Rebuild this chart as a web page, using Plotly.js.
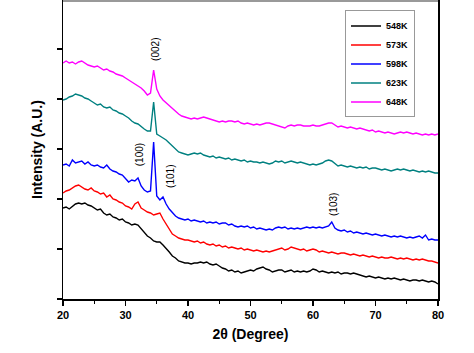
<!DOCTYPE html>
<html>
<head>
<meta charset="utf-8">
<script src="https://cdn.plot.ly/plotly-3.0.1.min.js"></script>
<style>html,body{margin:0;padding:0;background:#fff;}#chart{width:474px;height:353px;}</style>
</head>
<body>
<div id="chart"></div>
<script>
var twoTheta = [20,20.5,21,21.5,22,22.5,23,23.5,24,24.5,25,25.5,26,26.5,27,27.5,28,28.5,29,29.5,
30,30.5,31,31.5,32,32.5,33,33.5,34,34.5,35,35.5,36,36.5,37,37.5,38,38.5,39,39.5,
40,40.5,41,41.5,42,42.5,43,43.5,44,44.5,45,45.5,46,46.5,47,47.5,48,48.5,49,49.5,
50,50.5,51,51.5,52,52.5,53,53.5,54,54.5,55,55.5,56,56.5,57,57.5,58,58.5,59,59.5,
60,60.5,61,61.5,62,62.5,63,63.5,64,64.5,65,65.5,66,66.5,67,67.5,68,68.5,69,69.5,
70,70.5,71,71.5,72,72.5,73,73.5,74,74.5,75,75.5,76,76.5,77,77.5,78,78.5,79,79.5,80];

var series548K = [91,92,90,93,95,96,95,96,94,93,91,89,90,86,84,85,82,81,79,80,
77,76,74,75,74,70,67,63,61,58,57,57,54,51,47,43,41,38,37,36,
36,35,36,36,37,36,37,35,34,35,33,31,30,28,29,27,28,26,27,28,
29,28,30,31,32,30,29,27,28,29,29,27,28,29,27,28,27,28,27,28,
30,29,27,28,27,26,27,26,27,25,26,26,25,26,25,24,23,22,23,22,
21,22,21,20,21,20,21,20,19,20,19,18,19,19,18,19,18,17,18,17,15];

var series573K = [106,108,109,111,113,114,112,110,109,111,108,107,105,106,102,104,100,99,97,96,
93,92,90,95,97,91,89,87,86,84,85,86,80,75,69,65,63,61,60,59,
59,58,57,58,56,57,55,54,55,53,54,52,53,51,52,51,50,51,49,50,
49,48,49,48,47,48,47,48,49,50,51,49,50,52,51,50,49,50,48,49,
50,49,47,48,47,46,47,46,45,46,46,45,44,45,44,43,44,43,42,43,
42,41,42,41,41,42,41,40,41,40,41,40,39,40,39,40,39,38,38,37,36];

var series598K = [134,135,133,139,136,137,138,135,137,134,133,134,132,131,134,130,128,127,125,124,
121,117,119,118,121,113,109,107,108,157,103,99,102,95,90,86,83,81,80,79,
80,78,79,78,77,78,76,77,76,77,75,76,76,74,75,73,72,73,72,73,
71,72,70,71,70,69,70,69,71,72,71,72,70,71,70,71,70,71,72,71,
72,71,72,71,72,73,77,71,69,68,69,67,68,66,67,66,65,66,65,64,
65,64,63,64,63,62,63,62,63,62,61,62,61,62,63,61,64,59,60,59,59];

var series623K = [199,200,202,203,205,204,203,201,200,198,196,194,195,192,191,192,189,188,186,185,
183,181,178,176,175,172,170,168,168,197,165,163,161,159,156,153,150,147,146,145,
144,145,146,145,146,144,143,142,143,141,142,141,140,141,139,140,139,138,139,137,
138,137,137,136,137,136,135,136,138,137,138,136,137,138,137,136,137,136,135,134,
135,134,135,136,138,139,138,135,133,134,133,132,133,132,131,132,131,132,130,131,
131,130,129,130,129,128,129,130,129,130,129,128,129,128,127,128,127,128,127,126,126];

var series648K = [236,238,236,237,235,237,238,236,234,233,232,233,231,229,230,228,227,225,224,223,
221,219,217,215,213,211,208,204,206,229,210,203,199,196,193,190,187,185,183,182,
181,180,181,180,181,182,181,180,179,178,177,178,177,178,178,177,178,176,175,176,
175,174,175,174,175,176,176,175,174,173,172,171,173,174,173,174,174,173,173,173,
174,173,173,174,175,176,176,174,172,173,172,171,172,171,170,171,170,169,168,169,
167,168,167,166,167,166,165,166,167,166,167,166,165,166,165,164,165,164,165,164,165];

var seriesNames = ['548K','573K','598K','623K','648K'];
var seriesColors = ['#000000','#ff0000','#0000ff','#008080','#ff00ff'];
var seriesData = [series548K, series573K, series598K, series623K, series648K];

var peakLabels = ['(002)','(100)','(101)','(103)'];
var peakX = [34.7, 32.2, 37.1, 63.2];
var peakY = [250, 144, 123, 94];

var traces = seriesData.map(function(d, i){
  return {x: twoTheta, y: d, type: 'scatter', mode: 'lines', name: seriesNames[i],
          line: {color: seriesColors[i], width: 1.4}};
});

var annotations = peakLabels.map(function(t, i){
  return {x: peakX[i], y: peakY[i], xref: 'x', yref: 'y', text: t, showarrow: false,
          textangle: -90, font: {family: 'Liberation Sans, Arial, sans-serif', size: 10, color: '#000'}};
});

var layout = {
  width: 474, height: 353,
  margin: {l: 63, r: 36, t: 0, b: 54},
  paper_bgcolor: '#fff', plot_bgcolor: '#fff',
  showlegend: true,
  legend: {x: 0.752, y: 0.965, xanchor: 'left', yanchor: 'top', bgcolor: '#fff',
           bordercolor: '#999', borderwidth: 1,
           font: {family: 'Liberation Sans, Arial, sans-serif', size: 9, color: '#000', weight: 'bold'}},
  xaxis: {range: [20, 80], showgrid: false, zeroline: false, showline: true, linecolor: '#000', linewidth: 1.5,
          ticks: 'outside', ticklen: 5, tickwidth: 1.2, tickcolor: '#000', dtick: 10, tick0: 20,
          minor: {dtick: 5, ticks: 'outside', ticklen: 3, tickwidth: 1.2, tickcolor: '#000'},
          tickfont: {family: 'Liberation Sans, Arial, sans-serif', size: 11, color: '#000', weight: 'bold'},
          title: {text: '2θ (Degree)', standoff: 9,
                  font: {family: 'Liberation Sans, Arial, sans-serif', size: 14, color: '#000', weight: 'bold'}}},
  yaxis: {range: [0, 299], showgrid: false, zeroline: false, showline: true, mirror: true, linecolor: '#000', linewidth: 1.5,
          ticks: 'outside', ticklen: 5, tickwidth: 1.2, tickcolor: '#000',
          tickvals: [0, 50, 100, 150, 200, 250], showticklabels: false,
          title: {text: 'Intensity (A.U.)', standoff: 10,
                  font: {family: 'Liberation Sans, Arial, sans-serif', size: 14, color: '#000', weight: 'bold'}}},
  shapes: [{type: 'line', xref: 'paper', yref: 'paper', x0: 0, x1: 1, y0: 1, y1: 1,
            line: {color: '#999', width: 4}}],
  annotations: annotations
};

Plotly.newPlot('chart', traces, layout, {displayModeBar: false, staticPlot: true});
</script>
</body>
</html>
